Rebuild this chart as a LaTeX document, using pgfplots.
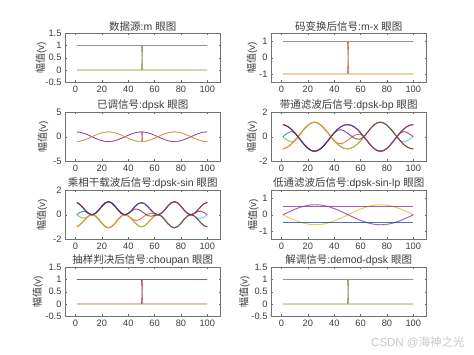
\documentclass[border=0pt]{standalone}
\usepackage{fontspec}
\setmainfont{Liberation Sans}
\newfontfamily\cjk{Noto Sans CJK SC}
\usepackage{pgfplots}
\usepackage{pgfplotstable}
\pgfplotsset{compat=1.18}
\definecolor{mB}{rgb}{0,0.447,0.741}
\definecolor{mO}{rgb}{0.85,0.325,0.098}
\definecolor{mY}{rgb}{0.929,0.694,0.125}
\definecolor{mP}{rgb}{0.494,0.184,0.556}
\definecolor{mG}{rgb}{0.466,0.674,0.188}
\definecolor{mC}{rgb}{0.301,0.745,0.933}
\definecolor{mR}{rgb}{0.635,0.078,0.184}
\definecolor{hiGray}{rgb}{0.56,0.54,0.59}
\definecolor{loYel}{rgb}{0.86,0.80,0.52}
\definecolor{olive}{rgb}{0.36,0.42,0.16}
\definecolor{axgray}{rgb}{0.15,0.15,0.15}

% binary 0/1 eye traces
\pgfplotstableread{
x hi lo dn up
1 1 0 1 0
50 1 0 1 0
51 1 0 0 1
100 1 0 0 1
}\tabBin
% +-1 eye traces
\pgfplotstableread{
x hi lo dn up
1 1 -1 1 -1
50 1 -1 1 -1
51 1 -1 -1 1
100 1 -1 -1 1
}\tabPM
% dpsk
\pgfplotstableread{
x A B C D
1 0.992 -0.992 0.992 -0.992
2.5 0.951 -0.951 0.951 -0.951
5 0.809 -0.809 0.809 -0.809
7.5 0.588 -0.588 0.588 -0.588
10 0.309 -0.309 0.309 -0.309
12.5 0 0 0 0
15 -0.309 0.309 -0.309 0.309
17.5 -0.588 0.588 -0.588 0.588
20 -0.809 0.809 -0.809 0.809
22.5 -0.951 0.951 -0.951 0.951
25 -1 1 -1 1
27.5 -0.951 0.951 -0.951 0.951
30 -0.809 0.809 -0.809 0.809
32.5 -0.588 0.588 -0.588 0.588
35 -0.309 0.309 -0.309 0.309
37.5 0 0 0 0
40 0.309 -0.309 0.309 -0.309
42.5 0.588 -0.588 0.588 -0.588
45 0.809 -0.809 0.809 -0.809
47.5 0.951 -0.951 0.951 -0.951
50 1 -1 1 -1
51 0.992 -0.992 -0.992 0.992
52.5 0.951 -0.951 -0.951 0.951
55 0.809 -0.809 -0.809 0.809
57.5 0.588 -0.588 -0.588 0.588
60 0.309 -0.309 -0.309 0.309
62.5 0 0 0 0
65 -0.309 0.309 0.309 -0.309
67.5 -0.588 0.588 0.588 -0.588
70 -0.809 0.809 0.809 -0.809
72.5 -0.951 0.951 0.951 -0.951
75 -1 1 1 -1
77.5 -0.951 0.951 0.951 -0.951
80 -0.809 0.809 0.809 -0.809
82.5 -0.588 0.588 0.588 -0.588
85 -0.309 0.309 0.309 -0.309
87.5 0 0 0 0
90 0.309 -0.309 -0.309 0.309
92.5 0.588 -0.588 -0.588 0.588
95 0.809 -0.809 -0.809 0.809
97.5 0.951 -0.951 -0.951 0.951
100 1 -1 -1 1
}\tabDpsk
% dpsk-bp
\pgfplotstableread{
x P1 P2 F1 F2 G1 G2 H1 H2
1 1.0 -1.0 1.0 -1.0 0 0 -1.0 1.0
2.5 0.956 -0.956 0.956 -0.956 0.143 -0.143 -0.956 0.956
5 0.824 -0.824 0.824 -0.824 0.324 -0.324 -0.824 0.824
7.5 0.612 -0.612 0.612 -0.612 0.441 -0.441 -0.612 0.612
10 0.330 -0.330 0.330 -0.330 0.309 -0.309 -0.330 0.330
12.5 0 0 0 0 0 0 0 0
15 -0.349 0.349 -0.349 0.349 -0.349 0.349 0.349 -0.349
17.5 -0.681 0.681 -0.681 0.681 -0.681 0.681 0.681 -0.681
20 -0.955 0.955 -0.955 0.955 -0.955 0.955 0.955 -0.955
22.5 -1.137 1.137 -1.137 1.137 -1.137 1.137 1.137 -1.137
25 -1.2 1.2 -1.2 1.2 -1.2 1.2 1.2 -1.2
27.5 -1.137 1.137 -1.137 1.137 -1.137 1.137 1.137 -1.137
30 -0.955 0.955 -0.955 0.955 -0.955 0.955 0.955 -0.955
32.5 -0.681 0.681 -0.681 0.681 -0.681 0.681 0.681 -0.681
35 -0.349 0.349 -0.349 0.349 -0.349 0.349 0.349 -0.349
37.5 0 0 0 0 0 0 0 0
40 0.330 -0.330 0.324 -0.324 0.330 -0.330 -0.330 0.330
42.5 0.612 -0.612 0.529 -0.529 0.612 -0.612 -0.612 0.612
45 0.824 -0.824 0.582 -0.582 0.824 -0.824 -0.824 0.824
47.5 0.956 -0.956 0.476 -0.476 0.956 -0.956 -0.956 0.956
50 1.0 -1.0 0.300 -0.300 1.0 -1.0 -1.0 1.0
52.5 0.956 -0.956 0.095 -0.095 0.956 -0.956 -0.956 0.956
55 0.824 -0.824 -0.097 0.097 0.824 -0.824 -0.824 0.824
57.5 0.612 -0.612 -0.206 0.206 0.612 -0.612 -0.612 0.612
60 0.330 -0.330 -0.185 0.185 0.330 -0.330 -0.330 0.330
62.5 0 0 0 0 0 0 0 0
65 -0.349 0.349 0.324 -0.324 -0.349 0.349 0.349 -0.349
67.5 -0.681 0.681 0.676 -0.676 -0.681 0.681 0.681 -0.681
70 -0.955 0.955 0.971 -0.971 -0.955 0.955 0.955 -0.955
72.5 -1.137 1.137 1.137 -1.137 -1.137 1.137 1.137 -1.137
75 -1.2 1.2 1.2 -1.2 -1.2 1.2 1.2 -1.2
77.5 -1.137 1.137 1.137 -1.137 -1.137 1.137 1.137 -1.137
80 -0.955 0.955 0.955 -0.955 -0.955 0.955 0.955 -0.955
82.5 -0.681 0.681 0.681 -0.681 -0.681 0.681 0.681 -0.681
85 -0.349 0.349 0.349 -0.349 -0.349 0.349 0.349 -0.349
87.5 0 0 0 0 0 0 0 0
90 0.330 -0.330 -0.330 0.330 0.330 -0.330 -0.300 0.300
92.5 0.612 -0.612 -0.612 0.612 0.612 -0.612 -0.423 0.423
95 0.824 -0.824 -0.824 0.824 0.824 -0.824 -0.364 0.364
97.5 0.956 -0.956 -0.956 0.956 0.956 -0.956 -0.190 0.190
100 1.0 -1.0 -1.0 1.0 1.0 -1.0 0 0
}\tabBp
% dpsk-sin
\pgfplotstableread{
x Q1 Q2 F1 F2 G1 G2 H1 H2
1 1.0 -1.0 1.0 -1.0 0 0 -1.0 1.0
2.5 0.906 -0.906 0.906 -0.906 0.136 -0.136 -0.906 0.906
5 0.659 -0.659 0.659 -0.659 0.262 -0.262 -0.659 0.659
7.5 0.351 -0.351 0.351 -0.351 0.259 -0.259 -0.351 0.351
10 0.098 -0.098 0.098 -0.098 0.095 -0.095 -0.098 0.098
12.5 0 0 0 0 0 0 0 0
15 0.101 -0.101 0.101 -0.101 0.101 -0.101 -0.101 0.101
17.5 0.367 -0.367 0.367 -0.367 0.367 -0.367 -0.367 0.367
20 0.702 -0.702 0.702 -0.702 0.702 -0.702 -0.702 0.702
22.5 0.975 -0.975 0.975 -0.975 0.975 -0.975 -0.975 0.975
25 1.08 -1.08 1.08 -1.08 1.08 -1.08 -1.08 1.08
27.5 0.975 -0.975 0.975 -0.975 0.975 -0.975 -0.975 0.975
30 0.702 -0.702 0.702 -0.702 0.702 -0.702 -0.702 0.702
32.5 0.367 -0.367 0.367 -0.367 0.367 -0.367 -0.367 0.367
35 0.101 -0.101 0.101 -0.101 0.101 -0.101 -0.101 0.101
37.5 0 0 0 0 0 0 0 0
40 0.098 -0.098 0.100 -0.100 0.098 -0.098 -0.098 0.098
42.5 0.351 -0.351 0.311 -0.311 0.351 -0.351 -0.351 0.351
45 0.659 -0.659 0.471 -0.471 0.659 -0.659 -0.659 0.659
47.5 0.906 -0.906 0.453 -0.453 0.906 -0.906 -0.906 0.906
50 1.0 -1.0 0.300 -0.300 1.0 -1.0 -1.0 1.0
52.5 0.906 -0.906 0.090 -0.090 0.906 -0.906 -0.906 0.906
55 0.659 -0.659 -0.078 0.078 0.659 -0.659 -0.659 0.659
57.5 0.351 -0.351 -0.121 0.121 0.351 -0.351 -0.351 0.351
60 0.098 -0.098 -0.057 0.057 0.098 -0.098 -0.098 0.098
62.5 0 0 0 0 0 0 0 0
65 0.101 -0.101 -0.100 0.100 0.101 -0.101 -0.101 0.101
67.5 0.367 -0.367 -0.397 0.397 0.367 -0.367 -0.367 0.367
70 0.702 -0.702 -0.740 0.740 0.702 -0.702 -0.702 0.702
72.5 0.975 -0.975 -0.975 0.975 0.975 -0.975 -0.975 0.975
75 1.08 -1.08 -1.08 1.08 1.08 -1.08 -1.08 1.08
77.5 0.975 -0.975 -0.975 0.975 0.975 -0.975 -0.975 0.975
80 0.702 -0.702 -0.702 0.702 0.702 -0.702 -0.702 0.702
82.5 0.367 -0.367 -0.367 0.367 0.367 -0.367 -0.367 0.367
85 0.101 -0.101 -0.101 0.101 0.101 -0.101 -0.101 0.101
87.5 0 0 0 0 0 0 0 0
90 0.098 -0.098 -0.098 0.098 0.098 -0.098 -0.093 0.093
92.5 0.351 -0.351 -0.351 0.351 0.351 -0.351 -0.249 0.249
95 0.659 -0.659 -0.659 0.659 0.659 -0.659 -0.295 0.295
97.5 0.906 -0.906 -0.906 0.906 0.906 -0.906 -0.181 0.181
100 1.0 -1.0 -1.0 1.0 1.0 -1.0 0 0
}\tabSin
% dpsk-sin-lp
\pgfplotstableread{
x S N U L
1 0 0 0.5 -0.5
5 0.155 -0.155 0.5 -0.5
10 0.335 -0.335 0.5 -0.5
15 0.481 -0.481 0.5 -0.5
20 0.579 -0.579 0.5 -0.5
25 0.619 -0.619 0.5 -0.5
30 0.597 -0.597 0.5 -0.5
35 0.516 -0.516 0.5 -0.5
40 0.383 -0.383 0.5 -0.5
45 0.212 -0.212 0.5 -0.5
50 0.019 -0.019 0.5 -0.5
55 -0.175 0.175 0.5 -0.5
60 -0.351 0.351 0.5 -0.5
65 -0.493 0.493 0.5 -0.5
70 -0.586 0.586 0.5 -0.5
75 -0.620 0.620 0.5 -0.5
80 -0.592 0.592 0.5 -0.5
85 -0.505 0.505 0.5 -0.5
90 -0.368 0.368 0.5 -0.5
95 -0.194 0.194 0.5 -0.5
100 0 0 0.5 -0.5
}\tabLp

\pgfplotsset{eye/.style={
  width=155.5pt, height=48.5pt, scale only axis,
  xmin=-8, xmax=110, xtick={0,20,...,100},
  axis line style={draw=axgray!65, line width=0.5pt},
  tick style={draw=axgray!70, line width=0.4pt},
  major tick length=2pt, tick align=inside,
  ticklabel style={font=\fontsize{9.3}{10}\selectfont, text=axgray!90},
  /pgf/number format/assume math mode=true,
  every axis title shift=0pt,
  title style={font=\fontsize{10.5}{12}\selectfont, text=axgray!90, at={(0.5,1)}, anchor=south, inner sep=1.5pt},
  ylabel={{\cjk 幅值}(v)},
  ylabel style={font=\fontsize{10}{12}\selectfont, text=axgray!90, anchor=center},
  every axis plot/.append style={line width=0.55pt, line join=round, opacity=0.8},
}, thick eye/.style={every axis plot/.append style={line width=0.95pt, opacity=0.75}}}

\begin{document}
\begin{tikzpicture}
\useasboundingbox (0,0) rectangle (474pt,355pt);

% Row 1 left
\begin{axis}[eye, at={(65pt,273pt)}, anchor=south west,
  ymin=-0.5, ymax=1.5, ytick={-0.5,0,0.5,1,1.5},
  title={{\cjk 数据源}:m {\cjk 眼图}},
  ylabel style={at={(axis description cs:-0.155,0.5)}}]
\addplot[olive] table[x=x,y=dn] {\tabBin};
\addplot[olive] table[x=x,y=up] {\tabBin};
\addplot[loYel] table[x=x,y=lo] {\tabBin};
\addplot[hiGray] table[x=x,y=hi] {\tabBin};
\end{axis}

% Row 1 right
\begin{axis}[eye, at={(271pt,273pt)}, anchor=south west,
  ymin=-1.5, ymax=1.5, ytick={-1,0,1},
  title={{\cjk 码变换后信号}:m-x {\cjk 眼图}},
  ylabel style={at={(axis description cs:-0.122,0.5)}}]
\addplot[mO!75!black] table[x=x,y=up] {\tabPM};
\addplot[mO!75!black] table[x=x,y=dn] {\tabPM};
\addplot[mY!55!white] table[x=x,y=lo] {\tabPM};
\addplot[hiGray] table[x=x,y=hi] {\tabPM};
\end{axis}

% Row 2 left
\begin{axis}[eye, at={(65pt,194pt)}, anchor=south west,
  ymin=-5, ymax=5, ytick={-5,0,5},
  title={{\cjk 已调信号}:dpsk {\cjk 眼图}},
  ylabel style={at={(axis description cs:-0.142,0.5)}}]
\addplot[mR] table[x=x,y=C] {\tabDpsk};
\addplot[mP] table[x=x,y=D] {\tabDpsk};
\addplot[mP] table[x=x,y=A] {\tabDpsk};
\addplot[mY] table[x=x,y=B] {\tabDpsk};
\end{axis}

% Row 2 right
\begin{axis}[eye, thick eye, at={(271pt,194pt)}, anchor=south west,
  ymin=-2, ymax=2, ytick={-2,0,2},
  title={{\cjk 带通滤波后信号}:dpsk-bp {\cjk 眼图}},
  ylabel style={at={(axis description cs:-0.122,0.5)}}]
\addplot[mR] table[x=x,y=H2] {\tabBp};
\addplot[mC] table[x=x,y=H1] {\tabBp};
\addplot[mG] table[x=x,y=G2] {\tabBp};
\addplot[mB] table[x=x,y=G1] {\tabBp};
\addplot[mO] table[x=x,y=F2] {\tabBp};
\addplot[mY] table[x=x,y=P2] {\tabBp};
\addplot[mP] table[x=x,y=P1] {\tabBp};
\addplot[mP!70!black] table[x=x,y=F1] {\tabBp};
\end{axis}

% Row 3 left
\begin{axis}[eye, thick eye, at={(65pt,116pt)}, anchor=south west,
  ymin=-2, ymax=2, ytick={-2,0,2},
  title={{\cjk 乘相干载波后信号}:dpsk-sin {\cjk 眼图}},
  ylabel style={at={(axis description cs:-0.148,0.5)}}]
\addplot[mR] table[x=x,y=H2] {\tabSin};
\addplot[mC] table[x=x,y=H1] {\tabSin};
\addplot[mG] table[x=x,y=G2] {\tabSin};
\addplot[mB] table[x=x,y=G1] {\tabSin};
\addplot[mO] table[x=x,y=F2] {\tabSin};
\addplot[mY] table[x=x,y=Q2] {\tabSin};
\addplot[mP] table[x=x,y=Q1] {\tabSin};
\addplot[mP!70!black] table[x=x,y=F1] {\tabSin};
\end{axis}

% Row 3 right
\begin{axis}[eye, thick eye, at={(271pt,116pt)}, anchor=south west,
  ymin=-1.5, ymax=1.5, ytick={-1,0,1},
  title={{\cjk 低通滤波后信号}:dpsk-sin-lp {\cjk 眼图}},
  ylabel style={at={(axis description cs:-0.115,0.5)}}]
\addplot[mY, smooth] table[x=x,y=N] {\tabLp};
\addplot[mP, smooth] table[x=x,y=S] {\tabLp};
\addplot[mB!70!black] table[x=x,y=L] {\tabLp};
\addplot[mP] table[x=x,y=U] {\tabLp};
\end{axis}

% Row 4 left
\begin{axis}[eye, at={(65pt,39pt)}, anchor=south west,
  ymin=-0.5, ymax=1.5, ytick={-0.5,0,0.5,1,1.5},
  title={{\cjk 抽样判决后信号}:choupan {\cjk 眼图}},
  ylabel style={at={(axis description cs:-0.175,0.5)}}]
\addplot[mR!80!black] table[x=x,y=dn] {\tabBin};
\addplot[mR!80!black] table[x=x,y=up] {\tabBin};
\addplot[loYel] table[x=x,y=lo] {\tabBin};
\addplot[mP!50!gray] table[x=x,y=hi] {\tabBin};
\end{axis}

% Row 4 right
\begin{axis}[eye, at={(271pt,39pt)}, anchor=south west,
  ymin=-0.5, ymax=1.5, ytick={-0.5,0,0.5,1,1.5},
  title={{\cjk 解调信号}:demod-dpsk {\cjk 眼图}},
  ylabel style={at={(axis description cs:-0.170,0.5)}}]
\addplot[olive] table[x=x,y=dn] {\tabBin};
\addplot[olive] table[x=x,y=up] {\tabBin};
\addplot[loYel] table[x=x,y=lo] {\tabBin};
\addplot[hiGray] table[x=x,y=hi] {\tabBin};
\end{axis}

\node[anchor=base west, inner sep=0pt, text=black!22, font=\fontsize{11.5}{12}\selectfont] at (371pt,8pt) {CSDN @{\cjk 海神之光}};
\end{tikzpicture}
\end{document}
